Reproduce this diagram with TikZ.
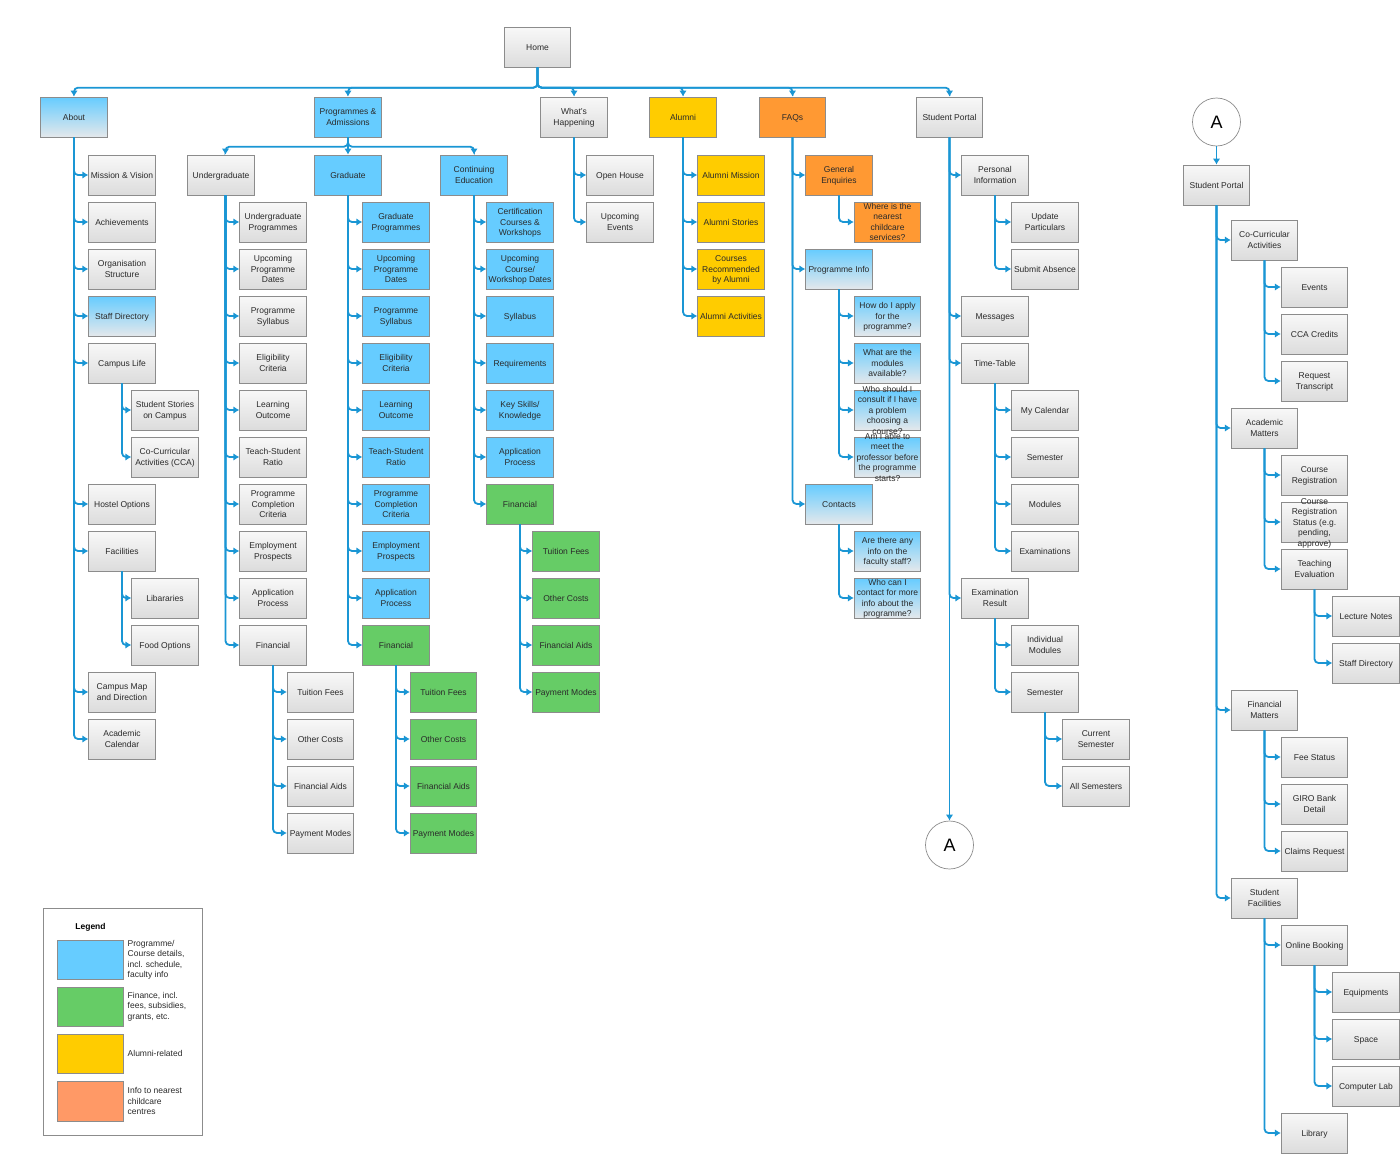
\documentclass[tikz,border=0pt]{standalone}
\usepackage{fontspec}
\setmainfont{Liberation Sans}
\usetikzlibrary{arrows.meta}
\definecolor{lk}{HTML}{1A96D4}
\definecolor{bord}{HTML}{8C8C8C}
\definecolor{txt}{HTML}{2A2A2A}
\definecolor{gtop}{HTML}{F8F8F8}
\definecolor{gbot}{HTML}{DCDCDC}
\definecolor{pblue}{HTML}{66CCFF}
\definecolor{bgbot}{HTML}{E4E8EB}
\definecolor{pgreen}{HTML}{66CC66}
\definecolor{pyellow}{HTML}{FFCC00}
\definecolor{porange}{HTML}{FF9933}
\definecolor{lorange}{HTML}{FF9966}
\newcommand\nt[1]{\raisebox{-3pt}[0pt][0pt]{\makebox[0pt]{\begin{tabular}{@{}c@{}}#1\end{tabular}}}}
\tikzset{
  bx/.style={rectangle, draw=bord, line width=0.7pt, minimum width=66.5pt, minimum height=40pt, inner sep=0pt, font=\fontsize{8.5}{10.5}\selectfont, text=txt},
  gb/.style={bx, top color=gtop, bottom color=gbot},
  bb/.style={bx, fill=pblue},
  bg/.style={bx, top color=pblue, bottom color=bgbot},
  gn/.style={bx, fill=pgreen},
  yl/.style={bx, fill=pyellow},
  og/.style={bx, fill=porange},
  circ/.style={circle, draw=bord, line width=0.7pt, minimum size=48pt, inner sep=0pt, font=\fontsize{18}{20}\selectfont, text=black},
  conn/.style={draw=lk, line width=1.8pt, rounded corners=4pt, -{Latex[length=6pt,width=7.5pt]}},
  swatch/.style={rectangle, draw=bord, line width=0.6pt, minimum width=66.4pt, minimum height=39.3pt, inner sep=0pt},
  legtxt/.style={anchor=west, align=left, inner sep=0pt, font=\fontsize{8.5}{10.5}\selectfont, text=txt},
}
\begin{document}
\begin{tikzpicture}[x=1pt,y=-1pt]
\useasboundingbox (0,0) rectangle (1400,1154);
% ---------- top level ----------
\node[gb] (home) at (537.5,47) {\nt{Home}};
\node[bg] (about) at (74,117) {\nt{About}};
\node[bb] (pa) at (348,117) {\nt{Programmes \&\\Admissions}};
\node[gb] (wh) at (574,117) {\nt{What's\\Happening}};
\node[yl] (al) at (683,117) {\nt{Alumni}};
\node[og] (faq) at (792.5,117) {\nt{FAQs}};
\node[gb] (sp) at (949.5,117) {\nt{Student Portal}};
% ---------- About ----------
\node[gb] (mv) at (122,175) {\nt{Mission \& Vision}};
\node[gb] (ach) at (122,222) {\nt{Achievements}};
\node[gb] (org) at (122,269) {\nt{Organisation\\Structure}};
\node[bg] (sd) at (122,316) {\nt{Staff Directory}};
\node[gb] (cl) at (122,363) {\nt{Campus Life}};
\node[gb] (ss) at (165,410) {\nt{Student Stories\\on Campus}};
\node[gb] (cca) at (165,457) {\nt{Co-Curricular\\Activities (CCA)}};
\node[gb] (hos) at (122,504) {\nt{Hostel Options}};
\node[gb] (fac) at (122,551) {\nt{Facilities}};
\node[gb] (lib) at (165,598) {\nt{Libararies}};
\node[gb] (food) at (165,645) {\nt{Food Options}};
\node[gb] (map) at (122,692) {\nt{Campus Map\\and Direction}};
\node[gb] (acal) at (122,739) {\nt{Academic\\Calendar}};
% ---------- Programmes ----------
\node[gb] (ug) at (221,175) {\nt{Undergraduate}};
\node[bb] (gr) at (348,175) {\nt{Graduate}};
\node[bb] (ce) at (474,175) {\nt{Continuing\\Education}};
% Undergraduate
\node[gb] (uga) at (273,222) {\nt{Undergraduate\\Programmes}};
\node[gb] (ugb) at (273,269) {\nt{Upcoming\\Programme\\Dates}};
\node[gb] (ugc) at (273,316) {\nt{Programme\\Syllabus}};
\node[gb] (ugd) at (273,363) {\nt{Eligibility\\Criteria}};
\node[gb] (uge) at (273,410) {\nt{Learning\\Outcome}};
\node[gb] (ugf) at (273,457) {\nt{Teach-Student\\Ratio}};
\node[gb] (ugg) at (273,504) {\nt{Programme\\Completion\\Criteria}};
\node[gb] (ugh) at (273,551) {\nt{Employment\\Prospects}};
\node[gb] (ugi) at (273,598) {\nt{Application\\Process}};
\node[gb] (ugfin) at (273,645) {\nt{Financial}};
\node[gb] (ugt) at (320.5,692) {\nt{Tuition Fees}};
\node[gb] (ugo) at (320.5,739) {\nt{Other Costs}};
\node[gb] (ugfa) at (320.5,786) {\nt{Financial Aids}};
\node[gb] (ugp) at (320.5,833) {\nt{Payment Modes}};
% Graduate
\node[bb] (gra) at (396,222) {\nt{Graduate\\Programmes}};
\node[bb] (grb) at (396,269) {\nt{Upcoming\\Programme\\Dates}};
\node[bb] (grc) at (396,316) {\nt{Programme\\Syllabus}};
\node[bb] (grd) at (396,363) {\nt{Eligibility\\Criteria}};
\node[bb] (gre) at (396,410) {\nt{Learning\\Outcome}};
\node[bb] (grf) at (396,457) {\nt{Teach-Student\\Ratio}};
\node[bb] (grg) at (396,504) {\nt{Programme\\Completion\\Criteria}};
\node[bb] (grh) at (396,551) {\nt{Employment\\Prospects}};
\node[bb] (gri) at (396,598) {\nt{Application\\Process}};
\node[gn] (grfin) at (396,645) {\nt{Financial}};
\node[gn] (grt) at (443.5,692) {\nt{Tuition Fees}};
\node[gn] (gro) at (443.5,739) {\nt{Other Costs}};
\node[gn] (grfa) at (443.5,786) {\nt{Financial Aids}};
\node[gn] (grp) at (443.5,833) {\nt{Payment Modes}};
% Continuing Education
\node[bb] (cea) at (520,222) {\nt{Certification\\Courses \&\\Workshops}};
\node[bb] (ceb) at (520,269) {\nt{Upcoming\\Course/\\Workshop Dates}};
\node[bb] (cec) at (520,316) {\nt{Syllabus}};
\node[bb] (ced) at (520,363) {\nt{Requirements}};
\node[bb] (cee) at (520,410) {\nt{Key Skills/\\Knowledge}};
\node[bb] (cef) at (520,457) {\nt{Application\\Process}};
\node[gn] (cefin) at (520,504) {\nt{Financial}};
\node[gn] (cet) at (566,551) {\nt{Tuition Fees}};
\node[gn] (ceo) at (566,598) {\nt{Other Costs}};
\node[gn] (cefa) at (566,645) {\nt{Financial Aids}};
\node[gn] (cep) at (566,692) {\nt{Payment Modes}};
% ---------- What's Happening ----------
\node[gb] (oh) at (620,175) {\nt{Open House}};
\node[gb] (ue) at (620,222) {\nt{Upcoming\\Events}};
% ---------- Alumni ----------
\node[yl] (ala) at (731,175) {\nt{Alumni Mission}};
\node[yl] (alb) at (731,222) {\nt{Alumni Stories}};
\node[yl] (alc) at (731,269) {\nt{Courses\\Recommended\\by Alumni}};
\node[yl] (ald) at (731,316) {\nt{Alumni Activities}};
% ---------- FAQs ----------
\node[og] (ge) at (839,175) {\nt{General\\Enquiries}};
\node[og] (gea) at (887.5,222) {\nt{Where is the\\nearest\\childcare\\services?}};
\node[bg] (pinfo) at (839,269) {\nt{Programme Info}};
\node[bg] (pia) at (887.5,316) {\nt{How do I apply\\for the\\programme?}};
\node[bg] (pib) at (887.5,363) {\nt{What are the\\modules\\available?}};
\node[bg] (pic) at (887.5,410) {\nt{Who should I\\consult if I have\\a problem\\choosing a\\course?}};
\node[bg] (pid) at (887.5,457) {\nt{Am I able to\\meet the\\professor before\\the programme\\starts?}};
\node[bg] (ct) at (839,504) {\nt{Contacts}};
\node[bg] (cta) at (887.5,551) {\nt{Are there any\\info on the\\faculty staff?}};
\node[bg] (ctb) at (887.5,598) {\nt{Who can I\\contact for more\\info about the\\programme?}};
% ---------- Student Portal ----------
\node[gb] (pers) at (995,175) {\nt{Personal\\Information}};
\node[gb] (upd) at (1045,222) {\nt{Update\\Particulars}};
\node[gb] (sub) at (1045,269) {\nt{Submit Absence}};
\node[gb] (msg) at (995,316) {\nt{Messages}};
\node[gb] (tt) at (995,363) {\nt{Time-Table}};
\node[gb] (mycal) at (1045,410) {\nt{My Calendar}};
\node[gb] (sema) at (1045,457) {\nt{Semester}};
\node[gb] (modl) at (1045,504) {\nt{Modules}};
\node[gb] (exa) at (1045,551) {\nt{Examinations}};
\node[gb] (er) at (995,598) {\nt{Examination\\Result}};
\node[gb] (ind) at (1045,645) {\nt{Individual\\Modules}};
\node[gb] (semb) at (1045,692) {\nt{Semester}};
\node[gb] (cur) at (1096,739) {\nt{Current\\Semester}};
\node[gb] (alls) at (1096,786) {\nt{All Semesters}};
\node[circ] (ca) at (949.5,845) {A};
% ---------- Right column ----------
\node[circ] (cb) at (1216.5,122) {A};
\node[gb] (sp2) at (1216.5,185) {\nt{Student Portal}};
\node[gb] (cc) at (1264.5,240) {\nt{Co-Curricular\\Activities}};
\node[gb] (ev) at (1314.5,287) {\nt{Events}};
\node[gb] (ccac) at (1314.5,334) {\nt{CCA Credits}};
\node[gb] (rt) at (1314.5,381) {\nt{Request\\Transcript}};
\node[gb] (am) at (1264.5,428) {\nt{Academic\\Matters}};
\node[gb] (cr) at (1314.5,475) {\nt{Course\\Registration}};
\node[gb] (crs) at (1314.5,522) {\nt{Course\\Registration\\Status (e.g.\\pending,\\approve)}};
\node[gb] (te) at (1314.5,569) {\nt{Teaching\\Evaluation}};
\node[gb] (ln) at (1366,616) {\nt{Lecture Notes}};
\node[gb] (sdr) at (1366,663) {\nt{Staff Directory}};
\node[gb] (fm) at (1264.5,710) {\nt{Financial\\Matters}};
\node[gb] (fs) at (1314.5,757) {\nt{Fee Status}};
\node[gb] (giro) at (1314.5,804) {\nt{GIRO Bank\\Detail}};
\node[gb] (clm) at (1314.5,851) {\nt{Claims Request}};
\node[gb] (sf) at (1264.5,898) {\nt{Student\\Facilities}};
\node[gb] (ob) at (1314.5,945) {\nt{Online Booking}};
\node[gb] (eq) at (1366,992) {\nt{Equipments}};
\node[gb] (spc) at (1366,1039) {\nt{Space}};
\node[gb] (clab) at (1366,1086) {\nt{Computer Lab}};
\node[gb] (lbr) at (1314.5,1133) {\nt{Library}};
% ---------- Connectors ----------
\foreach \c in {about,pa,wh,al,faq,sp}
  \draw[conn] (home.south) |- ([yshift=9pt]\c.north) -- (\c.north);
\foreach \c in {gr,ce}
  \draw[conn] (pa.south) |- ([yshift=8pt]\c.north) -- (\c.north);
\draw[conn] (pa.south) |- ([xshift=4.5pt,yshift=8pt]ug.north) -- ([xshift=4.5pt]ug.north);
\foreach \c in {mv,ach,org,sd,cl,hos,fac,map,acal}
  \draw[conn] (about.south) |- (\c.west);
\foreach \c in {ss,cca} \draw[conn] (cl.south) |- (\c.west);
\foreach \c in {lib,food} \draw[conn] (fac.south) |- (\c.west);
\foreach \c in {uga,ugb,ugc,ugd,uge,ugf,ugg,ugh,ugi,ugfin}
  \draw[conn] ([xshift=4.5pt]ug.south) |- (\c.west);
\foreach \c in {ugt,ugo,ugfa,ugp} \draw[conn] (ugfin.south) |- (\c.west);
\foreach \c in {gra,grb,grc,grd,gre,grf,grg,grh,gri,grfin}
  \draw[conn] (gr.south) |- (\c.west);
\foreach \c in {grt,gro,grfa,grp} \draw[conn] (grfin.south) |- (\c.west);
\foreach \c in {cea,ceb,cec,ced,cee,cef,cefin}
  \draw[conn] (ce.south) |- (\c.west);
\foreach \c in {cet,ceo,cefa,cep} \draw[conn] (cefin.south) |- (\c.west);
\foreach \c in {oh,ue} \draw[conn] (wh.south) |- (\c.west);
\foreach \c in {ala,alb,alc,ald} \draw[conn] (al.south) |- (\c.west);
\foreach \c in {ge,pinfo,ct} \draw[conn] (faq.south) |- (\c.west);
\draw[conn] (ge.south) |- (gea.west);
\foreach \c in {pia,pib,pic,pid} \draw[conn] (pinfo.south) |- (\c.west);
\foreach \c in {cta,ctb} \draw[conn] (ct.south) |- (\c.west);
\foreach \c in {pers,msg,tt,er} \draw[conn] (sp.south) |- (\c.west);
\draw[conn] (sp.south) -- (ca.north);
\foreach \c in {upd,sub} \draw[conn] (pers.south) |- (\c.west);
\foreach \c in {mycal,sema,modl,exa} \draw[conn] (tt.south) |- (\c.west);
\foreach \c in {ind,semb} \draw[conn] (er.south) |- (\c.west);
\foreach \c in {cur,alls} \draw[conn] (semb.south) |- (\c.west);
\draw[conn] (cb.south) -- (sp2.north);
\foreach \c in {cc,am,fm,sf} \draw[conn] (sp2.south) |- (\c.west);
\foreach \c in {ev,ccac,rt} \draw[conn] (cc.south) |- (\c.west);
\foreach \c in {cr,crs,te} \draw[conn] (am.south) |- (\c.west);
\foreach \c in {ln,sdr} \draw[conn] (te.south) |- (\c.west);
\foreach \c in {fs,giro,clm} \draw[conn] (fm.south) |- (\c.west);
\foreach \c in {ob,lbr} \draw[conn] (sf.south) |- (\c.west);
\foreach \c in {eq,spc,clab} \draw[conn] (ob.south) |- (\c.west);
% ---------- Legend ----------
\node[draw=bord, line width=0.6pt, minimum width=158.5pt, minimum height=227pt, inner sep=0pt, anchor=north west] (legend) at (43.3,908) {};
\node[font=\bfseries\fontsize{8.5}{10.5}\selectfont, text=black] (legt) at (90.5,927) {Legend};
\node[swatch, fill=pblue] (sw1) at (90.5,959.7) {};
\node[swatch, fill=pgreen] (sw2) at (90.5,1006.8) {};
\node[swatch, fill=pyellow] (sw3) at (90.5,1053.5) {};
\node[swatch, fill=lorange] (sw4) at (90.5,1101.3) {};
\node[legtxt] (lt1) at (127.5,959.8) {Programme/\\Course details,\\incl. schedule,\\faculty info};
\node[legtxt] (lt2) at (127.5,1006.7) {Finance, incl.\\fees, subsidies,\\grants, etc.};
\node[legtxt] (lt3) at (127.5,1053.7) {Alumni-related};
\node[legtxt] (lt4) at (127.5,1101.3) {Info to nearest\\childcare\\centres};
\end{tikzpicture}
\end{document}
